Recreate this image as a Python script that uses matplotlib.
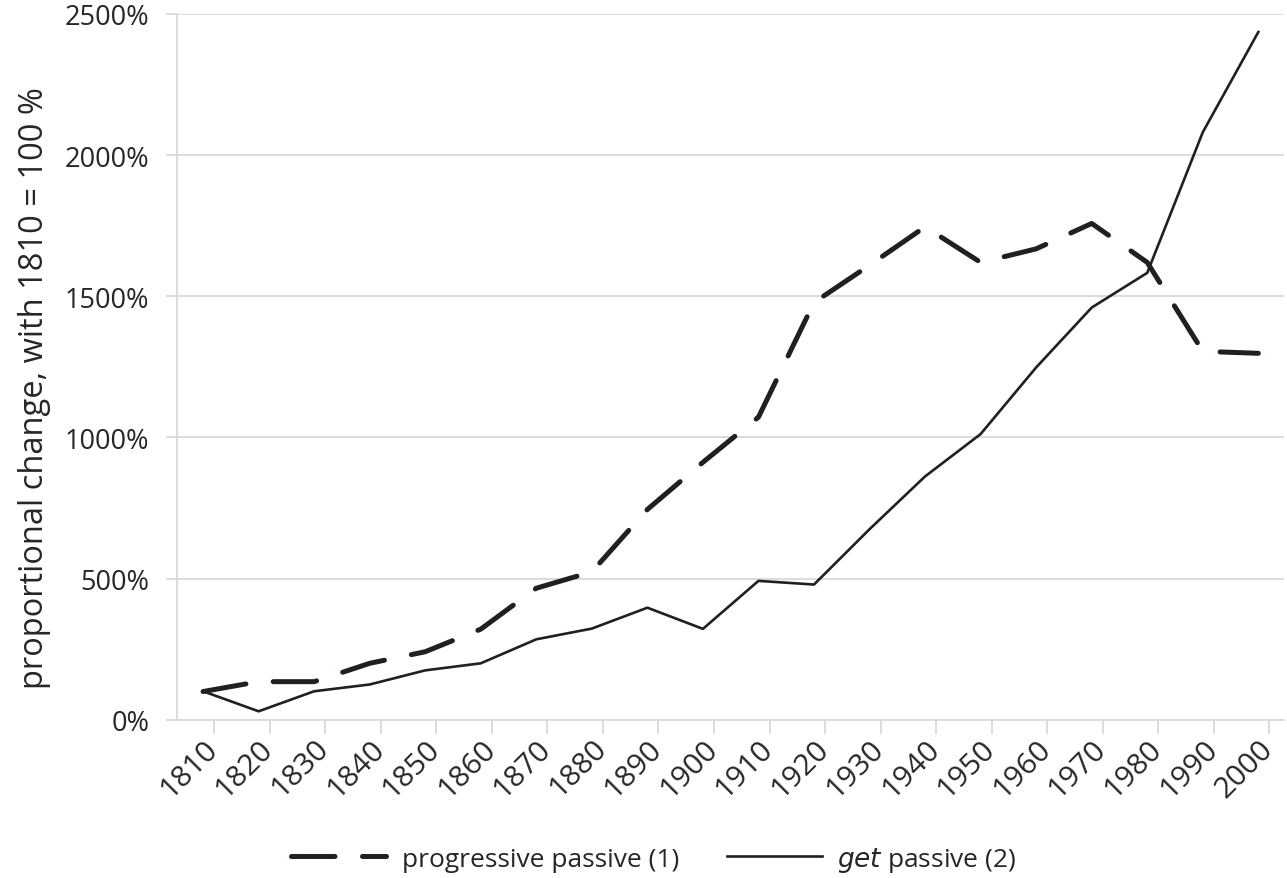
import matplotlib
matplotlib.use("Agg")
import matplotlib.pyplot as plt
import numpy as np

# ------------------------------------------------------------------
# Data
# ------------------------------------------------------------------
decades = ["1810", "1820", "1830", "1840", "1850", "1860", "1870", "1880",
           "1890", "1900", "1910", "1920", "1930", "1940", "1950", "1960",
           "1970", "1980", "1990", "2000"]
progressive = [100, 135, 135, 200, 241, 321, 466, 524, 745, 912,
               1072, 1478, 1610, 1746, 1620, 1668, 1758, 1620, 1305, 1298]
get_passive = [101, 30, 101, 125, 175, 200, 285, 323, 397, 322,
               492, 479, 675, 862, 1012, 1248, 1460, 1583, 2081, 2436]
yticks = [0, 500, 1000, 1500, 2000, 2500]

# ------------------------------------------------------------------
# Plot
# ------------------------------------------------------------------
plt.rcParams['font.family'] = ['Open Sans', 'DejaVu Sans']
grid_c = '#d9d9d9'
line_c = '#231f20'
text_c = '#262626'

fig = plt.figure(figsize=(12.87, 8.79), dpi=100)
ax = fig.add_axes([0.1375, 0.180, 0.8605, 0.803])

x = np.arange(len(decades))
ax.plot(x, progressive, color=line_c, lw=3.6, linestyle=(0, (8.7, 5.5)),
        dash_capstyle='round', label='progressive passive (1)')
ax.plot(x, get_passive, color=line_c, lw=1.9,
        label=r'$\it{get}$ passive (2)')

ax.set_xlim(-0.47, 19.47)
ax.set_ylim(0, 2500)
ax.set_yticks(yticks)
ax.set_yticklabels([f"{v}%" for v in yticks], fontsize=19.5, color=text_c)
ax.yaxis.grid(True, color=grid_c, lw=1.3)
ax.set_axisbelow(True)

ax.set_xticks(x)
ax.set_xticklabels(decades, rotation=45, ha='right', va='top',
                   rotation_mode='anchor', fontsize=21.5, color=text_c)
ax.tick_params(axis='x', length=0, pad=10)
ax.set_xticks(x + 0.2, minor=True)
ax.tick_params(axis='x', which='minor', length=10, color=grid_c, width=1.3)
ax.tick_params(axis='y', length=8, color=grid_c, width=1.3, pad=12)

for s in ['top', 'right']:
    ax.spines[s].set_visible(False)
for s in ['left', 'bottom']:
    ax.spines[s].set_color(grid_c)
    ax.spines[s].set_linewidth(1.3)

ax.set_ylabel("proportional change, with 1810 = 100 %", fontsize=23.5,
              color=text_c, labelpad=10, y=0.472)

fig.legend(loc='lower center', bbox_to_anchor=(0.508, -0.022), ncol=2,
           frameon=False, fontsize=19, handlelength=3.6,
           handletextpad=0.6, columnspacing=1.8, labelcolor=text_c)

fig.savefig("out.png", dpi=100)
